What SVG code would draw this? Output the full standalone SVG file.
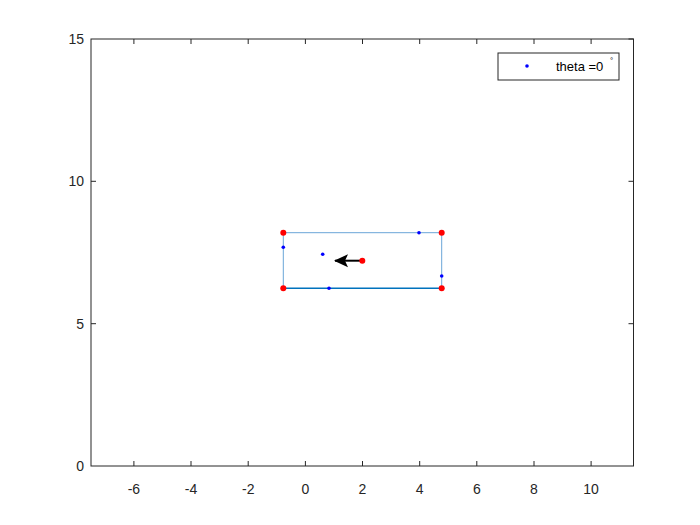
<svg xmlns="http://www.w3.org/2000/svg" width="700" height="525" viewBox="0 0 700 525">
<style>
.t{font-family:"Liberation Sans",Arial,sans-serif;font-size:14px;fill:#262626}
.xl{text-anchor:middle}
.yl{text-anchor:end}
.ax{stroke:#262626;stroke-width:1;fill:none}
.red{fill:#ff0000}
.blu{fill:#0000ff}
</style>
<defs>
<marker id="ah" viewBox="0 0 14 14" refX="13" refY="7" markerWidth="14" markerHeight="14" orient="auto" markerUnits="userSpaceOnUse"><path d="M0,0.5 L14,7 L0,13.5 L3,7 z" fill="#000"/></marker>
</defs>
<rect width="700" height="525" fill="#fff"/>
<g id="axes">
<rect x="91" y="39" width="542.5" height="427" class="ax" fill="#fff"/>
<path class="ax" d="M133.9,466v-5M191,466v-5M248.2,466v-5M305.4,466v-5M362.5,466v-5M419.7,466v-5M476.8,466v-5M534,466v-5M591.1,466v-5M133.9,39v5M191,39v5M248.2,39v5M305.4,39v5M362.5,39v5M419.7,39v5M476.8,39v5M534,39v5M591.1,39v5M91,323.7h5M91,181.3h5M628.5,323.7h5M628.5,181.3h5M628.5,39h5"/>
<g class="t xl">
<text x="133.9" y="494">-6</text><text x="191" y="494">-4</text><text x="248.2" y="494">-2</text><text x="305.4" y="494">0</text><text x="362.5" y="494">2</text><text x="419.7" y="494">4</text><text x="476.8" y="494">6</text><text x="534" y="494">8</text><text x="591.1" y="494">10</text>
</g>
<g class="t yl">
<text x="84" y="471">0</text><text x="84" y="329">5</text><text x="84" y="186">10</text><text x="84" y="44">15</text>
</g>
</g>
<g id="rect">
<path d="M283.3,288.3V232.7H441.7V288.3" stroke="#6aa6d8" stroke-width="1" fill="none"/>
<path d="M283.3,288.3H441.7" stroke="#0072bd" stroke-width="1.5" fill="none"/>
</g>
<g id="corners">
<circle class="red" cx="283.3" cy="232.7" r="3"/><circle class="red" cx="441.7" cy="232.7" r="3"/><circle class="red" cx="283.3" cy="288.3" r="3"/><circle class="red" cx="441.7" cy="288.3" r="3"/>
</g>
<g id="connectors">
<line x1="362.3" y1="260.7" x2="335" y2="260.7" stroke="#000" stroke-width="2" marker-end="url(#ah)"/>
</g>
<g id="center"><circle class="red" cx="362.3" cy="260.7" r="3"/></g>
<g id="points">
<circle class="blu" cx="419" cy="232.7" r="1.8"/><circle class="blu" cx="283.3" cy="247.3" r="1.8"/><circle class="blu" cx="322.7" cy="254.3" r="1.8"/><circle class="blu" cx="441.7" cy="276" r="1.8"/><circle class="blu" cx="329" cy="288.3" r="1.8"/>
</g>
<g id="legend">
<rect x="498" y="53" width="121" height="27" fill="#fff" stroke="#262626" stroke-width="1"/>
<circle class="blu" cx="527" cy="66" r="1.8"/>
<text x="556" y="71" style="font-family:'Liberation Sans',Arial,sans-serif;font-size:13px;fill:#000">theta =0</text>
<text x="610" y="63" style="font-family:'Liberation Sans',Arial,sans-serif;font-size:8px;fill:#000">°</text>
</g>
</svg>
